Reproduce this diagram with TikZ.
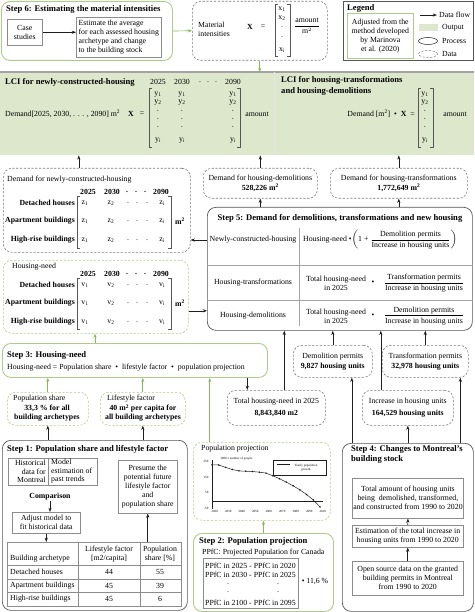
\documentclass[tikz,border=0pt]{standalone}
\usepackage{amsmath}
\usepackage{fontspec}
\setmainfont{Liberation Serif}
\usetikzlibrary{arrows.meta,positioning,calc,shapes.geometric}
\definecolor{ink}{HTML}{1E1E1E}
\definecolor{stepgray}{HTML}{555555}
\definecolor{dashgray}{HTML}{7A7A7A}
\definecolor{boxgray}{HTML}{8C8C8C}
\definecolor{rulegray}{HTML}{A3A3A3}
\definecolor{leaf}{HTML}{ADCC88}
\definecolor{leafdark}{HTML}{8CB65C}
\definecolor{lcifill}{HTML}{DCE7CB}
\newcommand{\bodyfs}{\fontsize{7.8}{9}\selectfont}
\newcommand{\headfs}{\fontsize{8.6}{10}\selectfont}
\newcommand{\tinyfs}{\fontsize{3.2}{3.8}\selectfont}
\newcommand{\sq}{\textsuperscript{2}}
\tikzset{
  >={Stealth[length=1.5mm,width=1.1mm]},
  procbox/.style={draw=stepgray,rounded corners=3mm,line width=.7pt,anchor=north west},
  stepbox/.style={draw=leaf,rounded corners=3mm,line width=.9pt,anchor=north west},
  databox/.style={draw=dashgray,dash pattern=on 2.2pt off 1.6pt,rounded corners=3mm,line width=.6pt,anchor=north west,align=center},
  greendata/.style={databox,draw=leaf},
  plain/.style={draw=boxgray,line width=.5pt,inner sep=1pt,anchor=north west,align=center},
  flow/.style={->,line width=.6pt,color=ink},
  greenflow/.style={->,line width=.7pt,color=leafdark},
  lbl/.style={inner sep=0pt},
  head/.style={lbl,font=\bfseries\headfs,anchor=west},
  rowlbl/.style={lbl,font=\bfseries\bodyfs,anchor=east},
  bracket/.style={draw=ink!75,line width=.5pt},
  gridline/.style={draw=boxgray,line width=.5pt},
}

\begin{document}
\begin{tikzpicture}[x=1pt,y=-1pt,font=\bodyfs]
  \useasboundingbox (0,0) rectangle (474,612);

  % step 6 and legend
  \node[stepbox,minimum width=171,minimum height=59] (step6) at (1,1) {};
  \node[head] (step6t) at (6,9) {Step 6: Estimating the material intensities};
  \node[plain,minimum width=35,minimum height=26] (cases) at (7,19) {Case\\studies};
  \node[plain,minimum width=85,minimum height=40,align=left] (estim) at (76,17)
    {Estimate the average\\for each assessed housing\\archetype and change\\to the building stock};
  \draw[flow] (cases.east) -- (cases.east -| estim.west);

  \node[databox,minimum width=135,minimum height=59] (matint) at (192,1) {};
  \node[lbl,anchor=west,align=left] (matlbl) at (198,29) {Material\\intensities};
  \node[lbl] (xsym) at (250,27) {\textbf{X}};
  \node[lbl] (xeq) at (263,27) {=};
  \foreach \t/\yy [count=\i] in {x\textsubscript{1}/9,x\textsubscript{2}/18,./27,./37,x\textsubscript{i}/50}
    \node[lbl] (xv\i) at (282,\yy) {\t};
  \draw[bracket] (278,4) -| (275,56) -- (278,56);
  \draw[bracket] (287,4) -| (290,56) -- (287,56);
  \node[lbl] (xunit) at (307,26) {$\dfrac{\text{amount}}{\text{m}^{2}}$};
  \draw[greenflow] (step6.east) -- (matint.west);

  \node[draw=stepgray,line width=.8pt,anchor=north west,minimum width=130,minimum height=59] (legend) at (343,1) {};
  \node[head] (legt) at (347,8) {Legend};
  \node[draw=leaf,line width=.6pt,anchor=north west,minimum width=66,minimum height=45,align=center] (legsrc) at (347,13)
    {Adjusted from the\\method developed\\by Marinova\\et al. (2020)};
  \coordinate (legA) at (420,15);
  \coordinate (legB) at (437,15);
  \draw[flow] (legA) -- (legB);
  \node[lbl,anchor=west] (legflow) at (439,15) {Data flow};
  \node[fill=lcifill,minimum width=19,minimum height=7,inner sep=0pt] (legout) at (428,28) {};
  \node[lbl,anchor=west] (legoutt) at (442,28) {Output};
  \node[ellipse,draw=ink,line width=.5pt,minimum width=19,minimum height=7,inner sep=0pt] (legproc) at (428,41) {};
  \node[lbl,anchor=west] (legproct) at (442,41) {Process};
  \node[ellipse,draw=dashgray,dash pattern=on 2.2pt off 1.6pt,line width=.5pt,minimum width=19,minimum height=7,inner sep=0pt] (legdata) at (428,54) {};
  \node[lbl,anchor=west] (legdatat) at (442,54) {Data};

  % LCI band
  \node[fill=lcifill,minimum width=474,minimum height=83,anchor=north west,inner sep=0pt] (lci) at (0,72) {};
  \draw[rulegray,line width=2pt] (lci.north west) -- (lci.north east);
  \draw[white!80!gray,line width=.8pt] ($(lci.north)+(37,0)$) -- ($(lci.south)+(37,0)$);
  \draw[greenflow] (matint.south) -- (matint.south |- lci.north);

  \node[head] (lcinewt) at (5,82) {LCI for newly-constructed-housing};
  \node[lbl,anchor=west] (lcidem) at (5,114) {Demand[2025, 2030, . . . , 2090] m\sq};
  \node[lbl] (lcix) at (131,114) {\textbf{X}};
  \node[lbl] (lcieq) at (142,114) {=};
  \foreach \t/\xx [count=\i] in {2025/158,2030/182,./200,./208,./216,2090/233}
    \node[lbl] (lh\i) at (\xx,82) {\t};
  \foreach \xx in {158,182,233}
    \foreach \t/\yy [count=\j] in {y\textsubscript{1}/95,y\textsubscript{2}/103,\textperiodcentered/112,\textperiodcentered/120,\textperiodcentered/128,y\textsubscript{i}/141}
      \node[lbl] (ly\xx-\j) at (\xx,\yy) {\t};
  \draw[bracket] (152,88) -| (149,147) -- (152,147);
  \draw[bracket] (237,88) -| (240,147) -- (237,147);
  \node[lbl] (lciamt) at (257,114) {amount};

  \node[head] (lcirt) at (281,80) {LCI for housing-transformations};
  \node[head] (lcirt2) at (281,91) {and housing-demolitions};
  \node[lbl,anchor=east] (lcirdem) at (415,114) {Demand [m\sq] \ \textbullet\ \ \textbf{X} \ =};
  \foreach \t/\yy [count=\j] in {y\textsubscript{1}/95,y\textsubscript{2}/103,\textperiodcentered/112,\textperiodcentered/120,\textperiodcentered/128,y\textsubscript{i}/141}
    \node[lbl] (ry\j) at (425,\yy) {\t};
  \draw[bracket] (421,88) -| (418,147) -- (421,147);
  \draw[bracket] (430,88) -| (433,147) -- (430,147);
  \node[lbl] (lciramt) at (455,114) {amount};

  % demand for newly-constructed-housing
  \node[databox,minimum width=187,minimum height=84] (demnew) at (3,168) {};
  \node[lbl,anchor=west] (demnewt) at (7,180) {Demand for newly-constructed-housing};
  \foreach \t/\xx [count=\i] in {2025/88,2030/112,./127,./136,./145,2090/161}
    \node[lbl,font=\bfseries\bodyfs] (zh\i) at (\xx,192) {\t};
  \foreach \lab/\yy [count=\r] in {Detached houses/203,Apartment buildings/221,High-rise buildings/240}{
    \node[rowlbl] (zr\r) at (75,\yy) {\lab};
    \foreach \t/\xx [count=\c] in {z\textsubscript{1}/85,z\textsubscript{2}/111,./128,./137,./147,z\textsubscript{i}/162}
      \node[lbl] (z\r-\c) at (\xx,\yy) {\t};
  }
  \draw[bracket] (80,196) -| (77,248) -- (80,248);
  \draw[bracket] (168,196) -| (171,248) -- (168,248);
  \node[lbl,font=\bfseries\bodyfs] (zunit) at (180,221) {m\sq};
  \draw[flow] ($(demnew.north)+(-18,0)$) -- ($(demnew.north |- lci.south)+(-18,0)$);

  % housing-need
  \node[greendata,minimum width=185,minimum height=73] (hneed) at (3,260) {};
  \node[lbl,anchor=west] (hneedt) at (12,267) {Housing-need};
  \foreach \t/\xx [count=\i] in {2025/88,2030/112,./127,./136,./145,2090/161}
    \node[lbl,font=\bfseries\bodyfs] (vh\i) at (\xx,274) {\t};
  \foreach \lab/\yy [count=\r] in {Detached houses/285,Apartment buildings/303,High-rise buildings/322}{
    \node[rowlbl] (vr\r) at (75,\yy) {\lab};
    \foreach \t/\xx [count=\c] in {v\textsubscript{1}/85,v\textsubscript{2}/111,./128,./137,./147,v\textsubscript{i}/162}
      \node[lbl] (v\r-\c) at (\xx,\yy) {\t};
  }
  \draw[bracket] (80,278) -| (77,329) -- (80,329);
  \draw[bracket] (168,278) -| (171,329) -- (168,329);
  \node[lbl,font=\bfseries\bodyfs] (vunit) at (180,303) {m\sq};

  % step 5
  \node[databox,minimum width=114,minimum height=30] (demdem) at (203,168)
    {Demand for housing-demolitions\\[1pt]\textbf{528,226 m\sq}};
  \node[databox,minimum width=137,minimum height=30] (demtra) at (330,168)
    {Demand for housing-transformations\\[1pt]\textbf{1,772,649 m\sq}};
  \draw[flow] (demdem.north) -- (demdem.north |- lci.south);
  \draw[flow] (demtra.north) -- (demtra.north |- lci.south);

  \node[procbox,minimum width=265,minimum height=123] (step5) at (207,207) {};
  \node[head,anchor=center] (step5t) at (340,218) {Step 5: Demand for demolitions, transformations and new housing};
  \draw[rulegray,line width=.5pt] ($(step5.north west)+(0,58)$) -- ($(step5.north east)+(0,58)$);
  \draw[rulegray,line width=.5pt] ($(step5.north west)+(0,93)$) -- ($(step5.north east)+(0,93)$);
  \draw[rulegray,line width=.5pt] ($(step5.north west)+(92,21)$) -- ($(step5.south west)+(92,-5)$);
  \node[lbl] (lrow1) at (253,240) {Newly-constructed-housing};
  \node[lbl] (lrow2) at (253,283) {Housing-transformations};
  \node[lbl] (lrow3) at (253,316) {Housing-demolitions};
  \node[lbl,anchor=west] (rrow1) at (303,240)
    {Housing-need \textbullet$\left(\text{1 + }\dfrac{\text{Demolition permits}}{\text{Increase in housing units}}\right)$};
  \node[lbl,align=center] (rrow2a) at (336,283) {Total housing-need\\in 2025};
  \node[lbl] (rrow2b) at (373,283) {\textbullet};
  \node[lbl] (rrow2c) at (424,283) {$\dfrac{\text{Transformation permits}}{\text{Increase in housing units}}$};
  \node[lbl,align=center] (rrow3a) at (336,316) {Total housing-need\\in 2025};
  \node[lbl] (rrow3b) at (373,316) {\textbullet};
  \node[lbl] (rrow3c) at (424,316) {$\dfrac{\text{Demolition permits}}{\text{Increase in housing units}}$};
  \draw[flow] (step5.north -| demdem.south) -- (demdem.south);
  \draw[flow] (step5.north -| demtra.south) -- (demtra.south);
  \draw[flow] (step5.west |- lrow1) -- (lrow1 -| demnew.east);
  \draw[flow] ($(hneed.east)+(0,14)$) -- ($(hneed.east -| step5.west)+(0,14)$);

  % step 3
  \node[stepbox,minimum width=265,minimum height=34] (step3) at (2,343) {};
  \node[head] (step3t) at (7,355) {Step 3: Housing-need};
  \node[lbl,anchor=west] (step3f) at (7,368)
    {Housing-need = Population share \ \textbullet\ \ lifestyle factor \ \textbullet\ \ population projection};
  \draw[greenflow] ($(step3.north)+(-40,0)$) -- ($(step3.north |- hneed.south)+(-40,0)$);

  \node[greendata,minimum width=81,minimum height=33] (popsh) at (7,392) {};
  \node[lbl,anchor=west] (popsht) at (13,399) {Population share};
  \node[lbl,font=\bfseries\bodyfs,align=center] (popshv) at (47,413) {33,3 \% for all\\building archetypes};
  \node[greendata,minimum width=85,minimum height=33] (lifef) at (100,392) {};
  \node[lbl,anchor=west] (lifeft) at (107,399) {Lifestyle factor};
  \node[lbl,font=\bfseries\bodyfs,align=center] (lifefv) at (143,413) {40 m\sq{} per capita for\\all building archetypes};
  \draw[greenflow] (popsh.north) -- (popsh.north |- step3.south);
  \draw[greenflow] (lifef.north) -- (lifef.north |- step3.south);

  % data from steps 2 and 4
  \node[databox,minimum width=98,minimum height=35] (tothn) at (227,390)
    {Total housing-need in 2025\\[3pt]\textbf{8,843,840 m2}};
  \node[databox,minimum width=79,minimum height=32] (demper) at (293,345)
    {Demolition permits\\[1pt]\textbf{9,827 housing units}};
  \node[databox,minimum width=86,minimum height=32] (traper) at (382,345)
    {Transformation permits\\[1pt]\textbf{32,978 housing units}};
  \node[databox,minimum width=91,minimum height=35] (incr) at (362,390)
    {Increase in housing units\\[3pt]\textbf{164,529 housing units}};
  \draw[flow] ($(step3.south -| tothn.north)+(-29,0)$) -- ($(tothn.north)+(-29,0)$);
  \draw[flow] ($(tothn.north)+(8,0)$) -- ($(tothn.north |- step5.south)+(8,0)$);
  \draw[flow] (demper.north) -- (demper.north |- step5.south);
  \draw[flow] ($(incr.north)+(-27,0)$) -- ($(incr.north |- step5.south)+(-27,0)$);
  \draw[flow] (traper.north) -- (traper.north |- step5.south);

  % step 1
  \node[procbox,minimum width=185,minimum height=170] (step1) at (2,440) {};
  \node[head] (step1t) at (7,449) {Step 1: Population share and lifestyle factor};
  \node[plain,minimum width=89,minimum height=27] (hist) at (8,458) {};
  \draw[gridline] ($(hist.north west)+(40,0)$) -- ($(hist.south west)+(40,0)$);
  \node[lbl,align=right,anchor=east,font=\fontsize{7.8}{8.4}\selectfont] (histl) at (46,471.5) {Historical\\data for\\Montreal};
  \node[lbl,align=left,anchor=west,font=\fontsize{7.8}{8.4}\selectfont] (histr) at (51,471.5) {Model\\estimation of\\past trends};
  \node[lbl,font=\bfseries\bodyfs] (comp) at (50,497) {Comparison};
  \node[plain,minimum width=68,minimum height=21] (adjust) at (12,512) {Adjust model to\\fit historical data};
  \node[plain,minimum width=59,minimum height=53] (presume) at (118,460)
    {Presume the\\potential future\\lifestyle factor\\and\\population share};
  \node[plain,minimum width=174,minimum height=64] (tbl) at (7,542) {};
  \draw[gridline] (78,542) -- (78,606) (140,542) -- (140,606);
  \draw[gridline] (7,565) -- (181,565) (7,579) -- (181,579) (7,592) -- (181,592);
  \node[lbl,anchor=west] (tblh1) at (10,559) {Building archetype};
  \node[lbl,align=center] (tblh2) at (109,554) {Lifestyle factor\\{[m2/capita]}};
  \node[lbl,align=center] (tblh3) at (160,554) {Population\\share [\%]};
  \foreach \lab/\lf/\ps/\yy [count=\r] in {Detached houses/44/55/572,Apartment buildings/45/39/586,High-rise buildings/45/6/599}{
    \node[lbl,anchor=west] (tr\r) at (10,\yy) {\lab};
    \node[lbl] (tlf\r) at (109,\yy) {\lf};
    \node[lbl] (tps\r) at (160,\yy) {\ps};
  }
  \draw[flow] (popsh.south |- step1.north) -- (popsh.south);
  \draw[flow] (lifef.south |- step1.north) -- (lifef.south);
  \draw[flow] (comp.south) -- (comp.south |- adjust.north);
  \draw[flow] (adjust.south) -- (adjust.south |- tbl.north);
  \draw[flow] (presume.south |- tbl.north) -- (presume.south);

  % population projection
  \node[greendata,minimum width=137,minimum height=78] (popproj) at (193,442) {};
  \node[lbl,anchor=west] (popprojt) at (201,449) {Population projection};
  \begin{scope}[shift={(212,500.7)},x=1.35pt,y=0.156pt]
    \draw[ink,line width=.3pt] (0,-50) -- (0,260);
    \draw[ink,line width=.3pt] (0,0) -- (82,0);
    \foreach \v in {250,150,50,-50}
      \node[lbl,font=\tinyfs,anchor=east] (yl\v) at (-2.5,\v) {\v};
    \foreach \yr in {2020,2030,...,2100}
      \node[lbl,font=\tinyfs] (xl\yr) at (\yr-2018,-68) {\yr};
    \node[lbl,font=\tinyfs,anchor=west] (chunit) at (6,272) {1000 x number of people};
    \draw[ink,line width=.5pt,mark=*,mark size=.45pt] plot coordinates
      {(0,230) (5,229) (10,214) (15,200) (20,191) (25,189) (30,187) (35,183) (40,177)
       (45,160) (50,141) (55,119) (60,96) (65,70) (70,40) (75,5) (80,-40)};
  \end{scope}
  \node[draw=ink,line width=.3pt,minimum width=53,minimum height=15,inner sep=0pt] (chleg) at (300,468) {};
  \coordinate (chlA) at (277,464);
  \coordinate (chlB) at (290,464);
  \draw[ink,line width=.5pt] (chlA) -- (chlB);
  \node[lbl,font=\tinyfs,align=center] (chlegt) at (306,468) {Yearly population\\growth};

  % step 2
  \node[stepbox,minimum width=140,minimum height=78] (step2) at (193,533) {};
  \node[head] (step2t) at (199,541) {Step 2: Population projection};
  \node[lbl,anchor=west] (step2s) at (202,553) {PPfC: Projected Population for Canada};
  \node[plain,minimum width=95,minimum height=50] (ppfc) at (203,558) {};
  \node[lbl] (ppfc1) at (250.5,566) {PPfC in 2025 - PPfC in 2020};
  \node[lbl] (ppfc2) at (250.5,575) {PPfC in 2030 - PPfC in 2025};
  \foreach \xx/\yy [count=\i] in {228/584,278/584,228/592,278/592}
    \node[lbl] (ppd\i) at (\xx,\yy) {.};
  \node[lbl] (ppfc3) at (250.5,603) {PPfC in 2100 - PPfC in 2095};
  \node[lbl] (ppfcr) at (315,581) {\textbullet{} 11,6 \%};
  \draw[greenflow] (step2.north) -- (step2.north |- popproj.south);
  \draw[greenflow] ($(popproj.north)+(-52,0)$) -- ($(popproj.north |- step3.south)+(-52,0)$);

  % step 4
  \node[procbox,minimum width=131,minimum height=168] (step4) at (342,443) {};
  \node[head,align=left,anchor=north west] (step4t) at (351,445) {Step 4: Changes to Montreal's\\building stock};
  \node[plain,minimum width=111,minimum height=40] (s4a) at (352,478)
    {Total amount of housing units\\being\ \ demolished, transformed,\\and constructed from 1990 to 2020};
  \node[plain,minimum width=111,minimum height=22] (s4b) at (352,525)
    {Estimation of the total increase in\\housing units from 1990 to 2020};
  \node[plain,minimum width=111,minimum height=34] (s4c) at (352,561)
    {Open source data on the granted\\building permits in Montreal\\from 1990 to 2020};
  \draw[flow] (s4c.north) -- (s4b.south);
  \draw[flow] (s4b.north) -- (s4a.south);
  \draw[flow] ($(demper.south |- step4.north)+(19,0)$) -- ($(demper.south)+(19,0)$);
  \draw[flow] (incr.south |- step4.north) -- (incr.south);
  \draw[flow] ($(traper.south |- step4.north)+(35,0)$) -- ($(traper.south)+(35,0)$);
\end{tikzpicture}
\end{document}
